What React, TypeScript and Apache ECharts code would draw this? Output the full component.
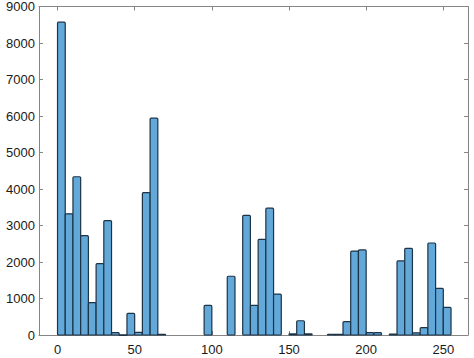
import React, { useEffect, useRef } from "react";
import * as echarts from "echarts";

// Histogram counts per bin (bin width 5, first bin starts at 0)
const binStart = 0;
const binWidth = 5;
const counts = [
  8570, 3320, 4335, 2720, 885, 1955, 3135, 65, 5, 590,
  70, 3900, 5940, 20, 0, 0, 0, 0, 0, 810,
  0, 0, 1610, 0, 3275, 810, 2620, 3475, 1120, 0,
  30, 390, 30, 0, 0, 20, 20, 365, 2300, 2330,
  65, 65, 0, 25, 2030, 2375, 60, 200, 2520, 1280,
  755,
];
const xTicks = [0, 50, 100, 150, 200, 250];
const yMin = 0;
const yMax = 9000;
const yInterval = 1000;
const xMin = -12;
const xMax = 266;

export default function App() {
  const ref = useRef<HTMLDivElement>(null);
  useEffect(() => {
    if (!ref.current) return;
    const chart = echarts.init(ref.current, undefined, { renderer: "svg" });
    const data = counts.map((c, i) => [binStart + i * binWidth, binStart + (i + 1) * binWidth, c]);
    const axisColor = "#858585";
    const labelStyle = { color: "#1a1a1a", fontSize: 13, fontFamily: "Liberation Sans, Arial, sans-serif" };
    const line = { show: true, onZero: false, lineStyle: { color: axisColor, width: 1 } };
    chart.setOption({
      animation: false,
      backgroundColor: "#ffffff",
      grid: { left: 39, right: 6, top: 6, bottom: 23, containLabel: false },
      xAxis: [
        {
          type: "value",
          min: xMin,
          max: xMax,
          position: "bottom",
          splitLine: { show: false },
          axisLine: line,
          axisTick: { show: true, inside: true, length: 4, customValues: xTicks, lineStyle: { color: axisColor } },
          axisLabel: { ...labelStyle, margin: 8, customValues: xTicks, formatter: (v: number) => String(v) },
        },
        {
          type: "value",
          min: xMin,
          max: xMax,
          position: "top",
          splitLine: { show: false },
          axisLine: line,
          axisTick: { show: true, inside: true, length: 4, customValues: xTicks, lineStyle: { color: axisColor } },
          axisLabel: { show: false },
        },
      ],
      yAxis: [
        {
          type: "value",
          min: yMin,
          max: yMax,
          interval: yInterval,
          position: "left",
          splitLine: { show: false },
          axisLine: line,
          axisTick: { show: true, inside: true, length: 4, lineStyle: { color: axisColor } },
          axisLabel: { ...labelStyle, margin: 4, formatter: (v: number) => String(v) },
        },
        {
          type: "value",
          min: yMin,
          max: yMax,
          interval: yInterval,
          position: "right",
          splitLine: { show: false },
          axisLine: line,
          axisTick: { show: true, inside: true, length: 4, lineStyle: { color: axisColor } },
          axisLabel: { show: false },
        },
      ],
      series: [
        {
          type: "custom",
          xAxisIndex: 0,
          yAxisIndex: 0,
          data,
          encode: { x: [0, 1], y: 2 },
          renderItem: (params: any, api: any) => {
            const x0 = api.value(0);
            const x1 = api.value(1);
            const v = api.value(2);
            const p0 = api.coord([x0, 0]);
            const p1 = api.coord([x1, v]);
            const h = p0[1] - p1[1];
            if (v <= 0) return null;
            return {
              type: "rect",
              shape: { x: p0[0], y: p1[1], width: p1[0] - p0[0], height: Math.max(h, 0.5), r: 1 },
              style: { fill: "#62a9da", stroke: "#1d3346", lineWidth: 1.2 },
            };
          },
        },
      ],
    });
    return () => chart.dispose();
  }, []);
  return (
    <div
      ref={ref}
      style={{ position: "fixed", left: 0, top: 0, width: 474, height: 358, background: "#fff" }}
    />
  );
}
